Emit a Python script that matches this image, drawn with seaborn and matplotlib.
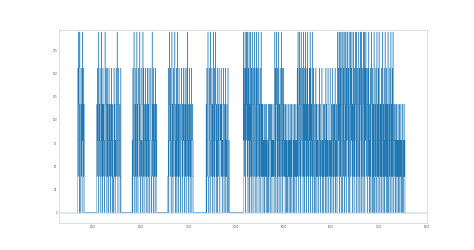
import numpy as np
import pandas as pd
import matplotlib
matplotlib.use("Agg")
import matplotlib.pyplot as plt
import seaborn as sns

# Discrete levels the signal jumps between (level index -> value)
levels = [0, 39, 78, 117, 156, 195]

# Level-index sequences (one digit per sample)
block1 = "0241530542031425041320"
block2 = ("0314205231" "4302513041" "3203521430" "4130241320"
          "3142031024" "1302143152" "0341230140")
block3 = ("2041352031" "4025130243" "1520341203" "5140231420"
          "3124031420" "2341025130" "4213042130")
block4 = ("1402531420" "3513042135" "2031402513" "0421301342"
          "0314230241" "3024152031" "4203124013" "20")
block5 = ("3041253014" "2053124031" "5204135203" "1402314201"
          "3241302143" "0231402130" "241020")
block6 = ("0524135042" "5315042503" "1520415302" "4153024150" "3412503142" "0513"
          "1302130231" "2031201302" "3103213021" "3120"
          "3514025304" "1520314203" "51402413"
          "1203120310" "2130213021" "3012302130" "213021"
          "4152035140" "2531420513" "0425130415" "2031425041" "32051420"
          "1302413021" "3102413021" "3402130231" "2041302143" "0213402130"
          "2413023140" "2130"
          "0514250351" "4025305142" "0531504253" "1405203514" "2503152041"
          "3520514203" "5140253051" "4205315042" "5314"
          "3041520314" "0253041305" "2031402513" "0415203130" "4152031402"
          "5130413052" "0314025130" "415203"
          "2130213021" "3021302130" "2103120312" "00")
# number of zero-valued samples in the quiet stretches between blocks
gap_lengths = [32, 30, 30, 35, 37]

x_start = 662
x_step = 7.5
xticks = [1000, 2000, 3000, 4000, 5000, 6000, 7000, 8000]
yticks = [0, 25, 50, 75, 100, 125, 150, 175]

blocks = [block1, block2, block3, block4, block5, block6]
series = ""
for i, b in enumerate(blocks):
    series += b
    if i < len(gap_lengths):
        series += "0" * gap_lengths[i]
y = [levels[int(c)] for c in series]
x = x_start + x_step * np.arange(len(y))
df = pd.DataFrame({"x": x, "y": y})

sns.set_style("white")
fig, ax = plt.subplots(figsize=(4.74, 2.5), dpi=100)
sns.lineplot(data=df, x="x", y="y", color="#1f77b4", linewidth=0.3,
             estimator=None, drawstyle="steps-post", ax=ax)
ax.axhline(0, color="#1f77b4", linewidth=0.3, alpha=0.8)
ax.set_xlim(288, 8000)
ax.set_ylim(-10.8, 197.2)
ax.set_xticks(xticks)
ax.set_yticks(yticks)
ax.tick_params(labelsize=1.8, length=0, pad=1.5, colors="#555555")
ax.set_xlabel("")
ax.set_ylabel("")
for s in ax.spines.values():
    s.set_color("#d0d0d0")
    s.set_linewidth(0.5)
fig.savefig("out.png", dpi=100)
